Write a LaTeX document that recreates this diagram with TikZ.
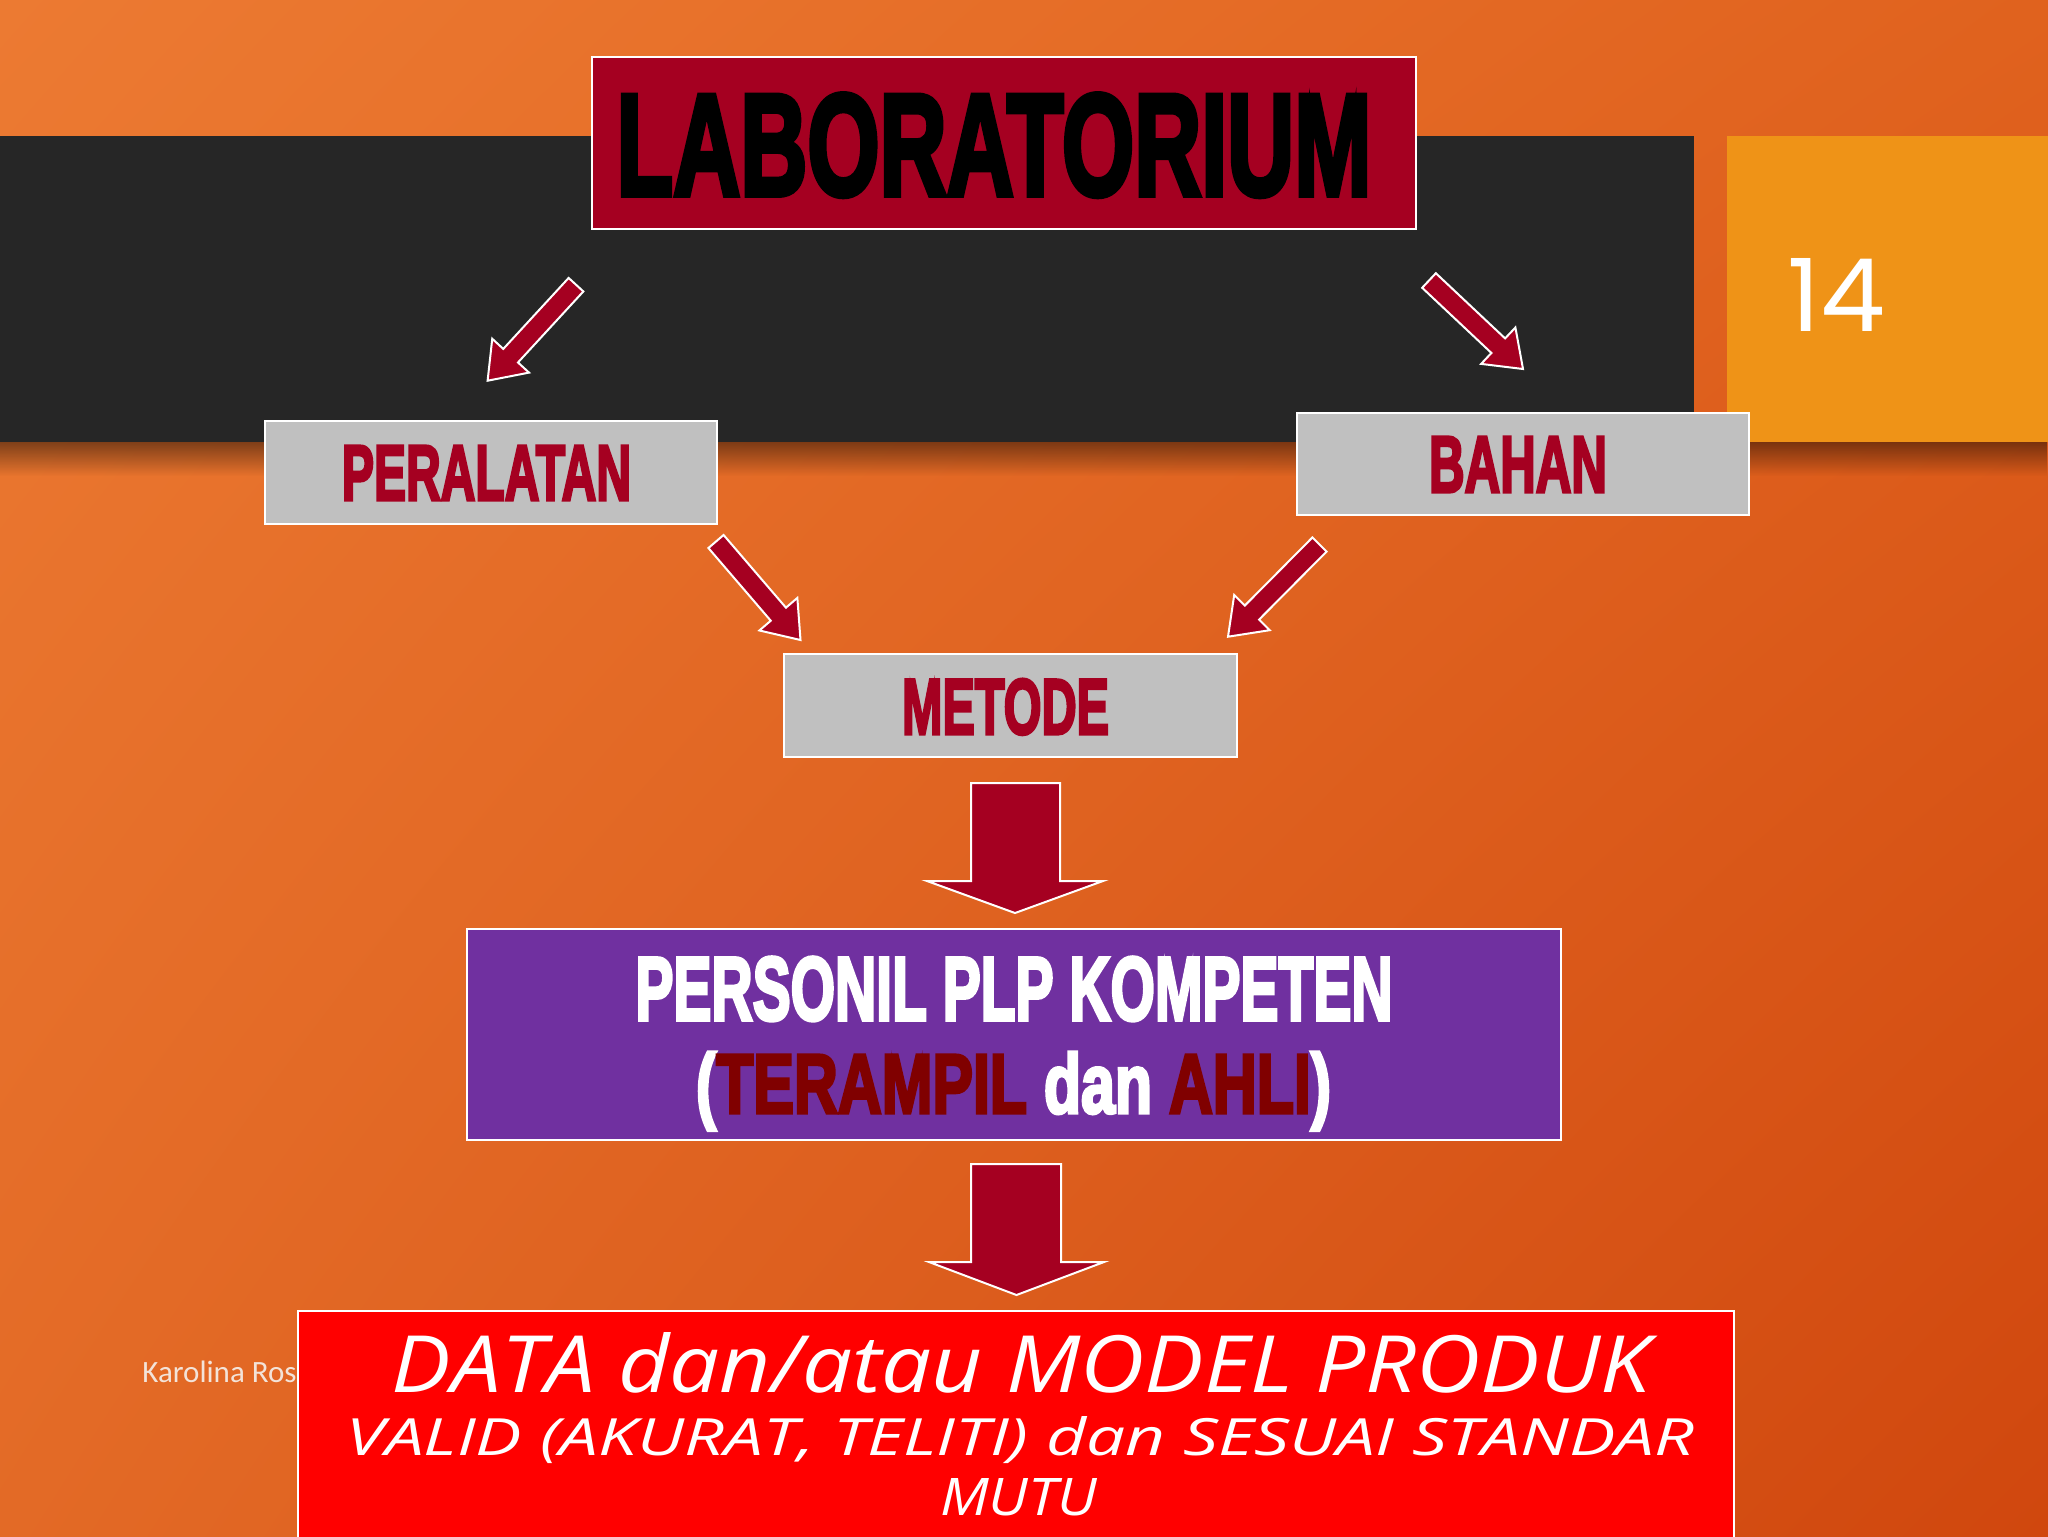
\documentclass[tikz,border=0pt]{standalone}
\usepackage{fontspec}
\usetikzlibrary{calc,fadings,shadings}
\newfontfamily\headfont{Liberation Sans}[BoldFeatures={FakeBold=4}]
\newfontfamily\numfont{Poppins}
\newfontfamily\footfont{Carlito}
\newfontfamily\handfont{Open Sans}
\definecolor{bgTL}{HTML}{EC7A32}
\definecolor{bgTR}{HTML}{E0621E}
\definecolor{bgBL}{HTML}{E36A26}
\definecolor{bgBR}{HTML}{D0470E}
\definecolor{band}{HTML}{262626}
\definecolor{orangebox}{HTML}{EF9317}
\definecolor{greybox}{HTML}{C0C0C0}
\definecolor{crimson}{HTML}{A50021}
\definecolor{darkred}{HTML}{800000}
\definecolor{purplebox}{HTML}{7030A0}
\definecolor{redbox}{HTML}{FF0000}
\definecolor{foot}{HTML}{F3E3D8}
\tikzfading[name=shadowfade, top color=transparent!0, bottom color=transparent!100]
\newcommand\diagarrow[2]{%
  \coordinate (#1-c) at ($(#2)!17pt!(#1)$);
  \draw[arrowshape] ($(#1)!5pt!90:(#2)$) -- ($(#1-c)!5pt!90:(#2)$) -- ($(#1-c)!12.5pt!90:(#2)$) -- (#2)
     -- ($(#1-c)!12.5pt!-90:(#2)$) -- ($(#1-c)!5pt!-90:(#2)$) -- ($(#1)!5pt!-90:(#2)$) -- cycle;}
\begin{document}
\begin{tikzpicture}[x=0.5pt,y=-0.5pt,
  box/.style={rectangle, draw=white, line width=1.2pt, inner sep=0pt},
  lbl/.style={inner sep=0pt, anchor=base},
  arrowshape/.style={fill=crimson, draw=white, line width=1pt, line join=miter}]
\useasboundingbox (0,0) rectangle (2048,1536);
\clip (0,0) rectangle (2048,1536);
% background
\shade[upper left=bgTL, upper right=bgTR, lower left=bgBL, lower right=bgBR] (0,0) rectangle (2048,1536);
\fill[band] (0,136) rectangle (1694,442);
\fill[black, opacity=0.45, path fading=shadowfade] (0,442) rectangle (2048,476);
\fill[orangebox] (1727,136) rectangle (2048,442);
\node[lbl, text=white] (num) at (1836,331) {\resizebox{49pt}{36.5pt}{\numfont 14}};
% footer text
\node[lbl, anchor=base west, text=foot, font=\footfont\fontsize{15.5}{18}\selectfont] (footer) at (142,1382) {Karolina Ros};
% boxes
\node[box, fill=crimson, minimum width=412pt, minimum height=86pt] (lab) at (1004,143) {};
\node[box, fill=greybox, minimum width=226pt, minimum height=51.5pt] (alat) at (491,472.5) {};
\node[box, fill=greybox, minimum width=226pt, minimum height=51pt] (bahan) at (1523,464) {};
\node[box, fill=greybox, minimum width=226.5pt, minimum height=51.5pt] (metode) at (1010.5,705.5) {};
\node[box, fill=purplebox, minimum width=547pt, minimum height=105.5pt] (personil) at (1014,1034.5) {};
\node[box, fill=redbox, minimum width=718pt, minimum height=124.5pt] (data) at (1016,1435.5) {};
% texts
\node[lbl, text=black] (lab-t) at (994,195) {\resizebox{377.5pt}{50.5pt}{\headfont\bfseries LABORATORIUM}};
\node[lbl, text=crimson] (alat-t) at (486.5,500) {\resizebox{144.5pt}{27pt}{\headfont\bfseries PERALATAN}};
\node[lbl, text=crimson] (bahan-t) at (1518,492) {\resizebox{89pt}{27.5pt}{\headfont\bfseries BAHAN}};
\node[lbl, text=crimson] (metode-t) at (1005.5,734) {\resizebox{103.5pt}{27.5pt}{\headfont\bfseries METODE}};
\node[lbl, text=white] (personil-t1) at (1014,1020) {\resizebox{378.5pt}{31.5pt}{\headfont\bfseries PERSONIL PLP KOMPETEN}};
\node[lbl, text=white] (personil-t2) at (1013.5,1113) {\resizebox{317.5pt}{30.5pt}{\headfont\bfseries (\textcolor{darkred}{TERAMPIL}~dan~\textcolor{darkred}{AHLI})}};
\node[lbl, text=white] (data-t1) at (1021,1392) {\resizebox{629pt}{30pt}{\handfont\itshape DATA dan/atau MODEL PRODUK}};
\node[lbl, text=white] (data-t2) at (1020.5,1455) {\resizebox{673.5pt}{19.5pt}{\handfont\itshape VALID (AKURAT, TELITI) dan SESUAI STANDAR}};
\node[lbl, text=white] (data-t3) at (1018.5,1515) {\resizebox{78.5pt}{18.5pt}{\handfont\itshape MUTU}};
% diagonal arrows
\coordinate (a1) at (576,284.7);   \coordinate (a1h) at (487.6,380.7);
\coordinate (a2) at (1429,280.5);  \coordinate (a2h) at (1523,369);
\coordinate (a3) at (716,541.5);   \coordinate (a3h) at (800.5,640);
\coordinate (a4) at (1319.5,544.5);\coordinate (a4h) at (1228,636.7);
\diagarrow{a1}{a1h}
\diagarrow{a2}{a2h}
\diagarrow{a3}{a3h}
\diagarrow{a4}{a4h}
% block arrows
\coordinate (b1) at (1015.5,783);  \coordinate (b1h) at (1015,913);
\coordinate (b2) at (1016,1164);   \coordinate (b2h) at (1016.5,1295);
\draw[arrowshape] ($(b1)+(-44.5,0)$) -- ($(b1)+(44.5,0)$) -- ($(b1h)+(45,-32)$) -- ($(b1h)+(88,-32)$) -- (b1h)
   -- ($(b1h)+(-88,-32)$) -- ($(b1h)+(-44,-32)$) -- cycle;
\draw[arrowshape] ($(b2)+(-45,0)$) -- ($(b2)+(45,0)$) -- ($(b2h)+(44.5,-33)$) -- ($(b2h)+(87.5,-33)$) -- (b2h)
   -- ($(b2h)+(-87.5,-33)$) -- ($(b2h)+(-45.5,-33)$) -- cycle;
\end{tikzpicture}
\end{document}
